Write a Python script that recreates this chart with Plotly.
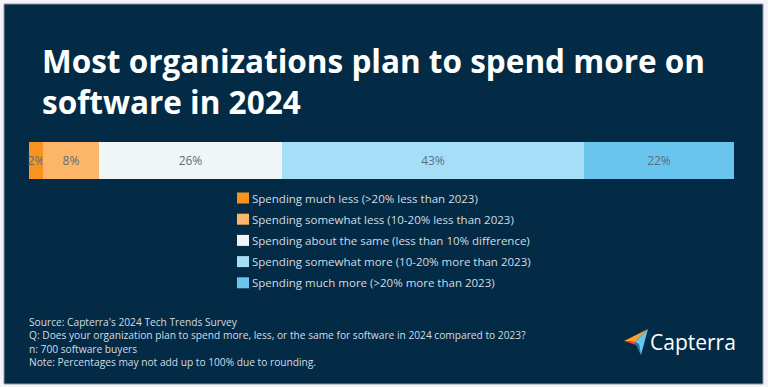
import plotly.graph_objects as go

W, H = 768, 387

categories = ["Spending much less (>20% less than 2023)",
              "Spending somewhat less (10-20% less than 2023)",
              "Spending about the same (less than 10% difference)",
              "Spending somewhat more (10-20% more than 2023)",
              "Spending much more (>20% more than 2023)"]
values = [2, 8, 26, 43, 21.3]
labels = ["2%", "8%", "26%", "43%", "22%"]
colors = ["#F7931E", "#FDB669", "#F0F5F8", "#A6DEF8", "#69C4EE"]

title_lines = ["Most organizations plan to spend more on", "software in 2024"]
footer_lines = ["Source: Capterra's 2024 Tech Trends Survey",
                "Q: Does your organization plan to spend more, less, or the same for software in 2024 compared to 2023?",
                "n: 700 software buyers",
                "Note: Percentages may not add up to 100% due to rounding."]

NAVY = "#032B45"
FONT = "Open Sans"


def px(x):
    return x / W


def py(y):
    return 1 - y / H


fig = go.Figure()
for cat, v, lab, c in zip(categories, values, labels, colors):
    fig.add_trace(go.Bar(
        x=[v], y=["all"], orientation="h", name=cat,
        marker=dict(color=c, line=dict(width=0)),
        text=[lab], textposition="inside", insidetextanchor="middle",
        constraintext="none", cliponaxis=False,
        textfont=dict(family=FONT, size=12, color="#5B6D7E"),
        hoverinfo="skip", showlegend=False,
    ))

shapes = [dict(type="rect", xref="paper", yref="paper",
               x0=px(4), x1=px(763), y0=py(384), y1=py(4),
               fillcolor=NAVY, line=dict(color="#8C9AA5", width=1), layer="below")]
annotations = []

# title (one text, two lines)
annotations.append(dict(text="<b>%s</b>" % "<br>".join(title_lines), xref="paper", yref="paper",
                        x=px(40), y=py(80.5), xanchor="left", yanchor="middle", align="left",
                        showarrow=False, font=dict(family=FONT, size=31.5, color="white")))

# legend
for i, (cat, c) in enumerate(zip(categories, colors)):
    yc = 198 + 21.2 * i
    shapes.append(dict(type="rect", xref="paper", yref="paper",
                       x0=px(237), x1=px(249), y0=py(yc + 5.5), y1=py(yc - 5.5),
                       fillcolor=c, line=dict(width=0)))
    annotations.append(dict(text=cat, xref="paper", yref="paper",
                            x=px(250), y=py(yc), xanchor="left", yanchor="middle",
                            showarrow=False, font=dict(family=FONT, size=11.5, color="#D3DCE3")))

# footer
annotations.append(dict(text="<br>".join(footer_lines), xref="paper", yref="paper",
                        x=px(27), y=py(341.5), xanchor="left", yanchor="middle", align="left",
                        showarrow=False, font=dict(family=FONT, size=10.2, color="#D3DCE3")))

# logo
def path(pts):
    return "M " + " L ".join("%f,%f" % (px(a), py(b)) for a, b in pts) + " Z"

shapes.append(dict(type="path", xref="paper", yref="paper",
                   path=path([(624, 341), (648, 329), (635, 342)]), fillcolor="#FF9D28", line=dict(width=0)))
shapes.append(dict(type="path", xref="paper", yref="paper",
                   path=path([(624, 341), (635, 342), (636, 345)]), fillcolor="#FF3D2E", line=dict(width=0)))
shapes.append(dict(type="path", xref="paper", yref="paper",
                   path=path([(635, 342), (648, 329), (641, 355)]), fillcolor="#68C5ED", line=dict(width=0)))
shapes.append(dict(type="path", xref="paper", yref="paper",
                   path=path([(635, 342), (641, 355), (639, 344)]), fillcolor="#1B6FA8", line=dict(width=0)))
annotations.append(dict(text="Capterra", xref="paper", yref="paper",
                        x=px(648), y=py(342), xanchor="left", yanchor="middle",
                        showarrow=False, font=dict(family=FONT, size=21, color="white")))

fig.update_layout(
    width=W, height=H,
    margin=dict(l=0, r=0, t=0, b=0),
    paper_bgcolor="#F3F4F5", plot_bgcolor="rgba(0,0,0,0)",
    barmode="stack", bargap=0,
    xaxis=dict(domain=[px(29), px(734)], range=[0, sum(values)], visible=False, fixedrange=True),
    yaxis=dict(domain=[py(179), py(142)], range=[-0.5, 0.5], visible=False, fixedrange=True),
    shapes=shapes, annotations=annotations,
    showlegend=False,
)

fig.write_html("out.html", config={"displayModeBar": False},
               post_script="document.body.style.margin='0';document.body.style.overflow='hidden';")
